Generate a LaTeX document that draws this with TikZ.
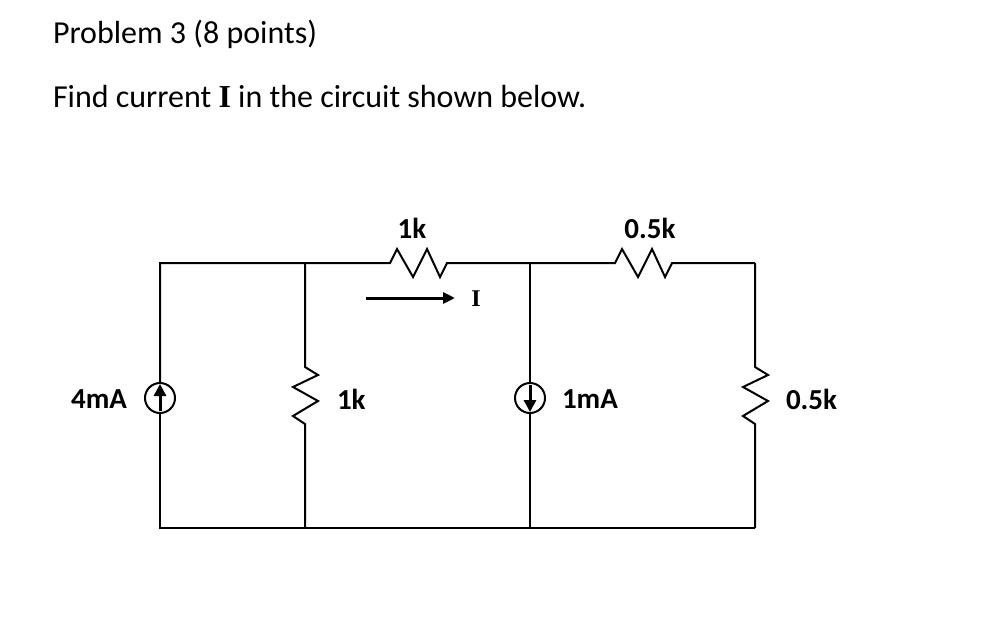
\documentclass[tikz,border=0pt]{standalone}
\usepackage{fontspec}
\setmainfont{Carlito}
\newfontfamily\tms{Liberation Serif}
\usetikzlibrary{arrows.meta}
\begin{document}
\begin{tikzpicture}[x=1pt,y=-1pt,line width=2pt,
  lbl/.style={font=\fontsize{29}{31}\selectfont\bfseries},
  src/.style={circle,draw,line width=2pt,minimum size=30pt,inner sep=0pt},
  sarr/.style={line width=3pt,-{Triangle[length=12pt,width=12pt]}}]
\useasboundingbox (0,0) rectangle (998,642);
\node[anchor=base west,font=\fontsize{32}{34}\selectfont,inner sep=0pt] (t1) at (52,44) {Problem 3 (8 points)};
\node[anchor=base west,font=\fontsize{32}{34}\selectfont,inner sep=0pt] (t2) at (52,107) {Find current {\tms\bfseries I} in the circuit shown below.};
\coordinate (a1) at (160,263); \coordinate (a2) at (160,528);
\coordinate (b1) at (305,263); \coordinate (b2) at (305,528);
\coordinate (c1) at (530,263); \coordinate (c2) at (530,528);
\coordinate (d1) at (755,263); \coordinate (d2) at (755,528);
\node[src] (s1) at (160,398) {};
\node[src] (s2) at (530,398) {};
\draw[sarr] (160,411) -- (160,384);
\draw[sarr] (530,385) -- (530,412);
\draw (s1) -- (a1) -- (b1) -- (390,263) -- (397,249) -- (413,277) -- (427,249) -- (440,277) -- (447,263) -- (c1) -- (615,263) -- (622,249) -- (638,277) -- (652,249) -- (665,277) -- (672,263) -- (d1);
\draw (s1) -- (a2) -- (b2) -- (c2) -- (d2);
\draw (b1) -- (305,367) -- (318,375) -- (293,387) -- (318,401) -- (293,416) -- (305,424) -- (b2);
\draw (d1) -- (755,367) -- (768,375) -- (743,387) -- (768,401) -- (743,416) -- (755,424) -- (d2);
\draw (c1) -- (s2) -- (c2);
\draw[line width=3pt,-{Triangle[length=12pt,width=11pt]}] (366,298) -- (455,298);
\node[font=\fontsize{24}{26}\selectfont\tms\bfseries] (ii) at (476,299) {I};
\node[lbl] (l1) at (412,228) {1k};
\node[lbl] (l2) at (650,228) {0.5k};
\node[lbl,anchor=east,inner sep=0pt] (l3) at (128,399) {4mA};
\node[lbl,anchor=west,inner sep=0pt] (l4) at (336,399) {1k};
\node[lbl,anchor=west,inner sep=0pt] (l5) at (561,399) {1mA};
\node[lbl,anchor=west,inner sep=0pt] (l6) at (785,399) {0.5k};
\end{tikzpicture}
\end{document}
